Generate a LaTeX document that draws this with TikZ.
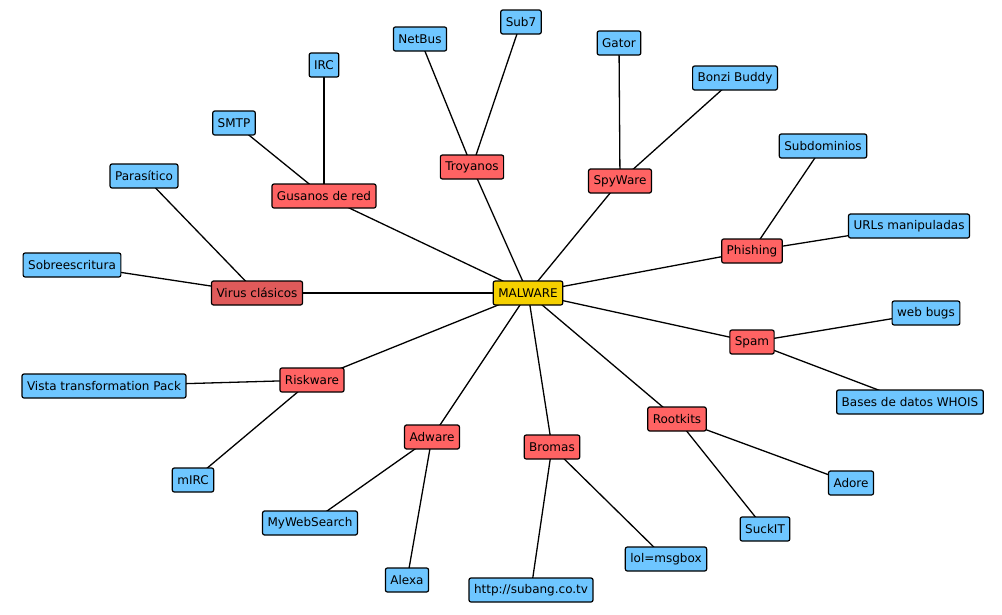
\documentclass[tikz,border=0pt]{standalone}
\usepackage{fontspec}
\setmainfont{DejaVu Sans}
\usetikzlibrary{backgrounds}
\definecolor{redn}{HTML}{FF6363}
\definecolor{redd}{HTML}{E05A5A}
\definecolor{bluen}{HTML}{6EC6FF}
\definecolor{yel}{HTML}{F5D000}
\tikzset{
 box/.style={draw=black,line width=1.2pt,rounded corners=2pt,inner xsep=5pt,inner ysep=0pt,minimum height=24pt,font=\fontsize{12}{14}\selectfont},
 rd/.style={box,fill=redn},
 bl/.style={box,fill=bluen},
 ln/.style={line width=1.3pt}
}
\begin{document}
\begin{tikzpicture}[x=1pt,y=-1pt]
\useasboundingbox (0,0) rectangle (1002,614);
\node[box,fill=yel] (m) at (528,293) {MALWARE};
\node[rd] (tro) at (472,167) {Troyanos};
\node[rd] (spy) at (620,181) {SpyWare};
\node[rd] (gus) at (324,196) {Gusanos de red};
\node[rd] (phi) at (752,251) {Phishing};
\node[box,fill=redd] (vir) at (257,293) {Virus clásicos};
\node[rd] (spa) at (752,342) {Spam};
\node[rd] (ris) at (312,380) {Riskware};
\node[rd] (adw) at (432,437) {Adware};
\node[rd] (bro) at (552,447) {Bromas};
\node[rd] (roo) at (677,419) {Rootkits};
\node[bl] (netbus) at (420,39) {NetBus};
\node[bl] (sub7) at (521,22) {Sub7};
\node[bl] (gator) at (619,43) {Gator};
\node[bl] (bonzi) at (735,78) {Bonzi Buddy};
\node[bl] (irc) at (324,65) {IRC};
\node[bl] (smtp) at (234,123) {SMTP};
\node[bl] (para) at (144,176) {Parasítico};
\node[bl] (subd) at (823,146) {Subdominios};
\node[bl] (urls) at (909,226) {URLs manipuladas};
\node[bl] (sobre) at (72,265) {Sobreescritura};
\node[bl] (web) at (926,313) {web bugs};
\node[bl] (whois) at (910,402) {Bases de datos WHOIS};
\node[bl] (vista) at (104,386) {Vista transformation Pack};
\node[bl] (mirc) at (193,480) {mIRC};
\node[bl] (myw) at (310,523) {MyWebSearch};
\node[bl] (alexa) at (407,580) {Alexa};
\node[bl] (http) at (531,590) {http://subang.co.tv};
\node[bl] (lol) at (666,559) {lol=msgbox};
\node[bl] (suck) at (765,529) {SuckIT};
\node[bl] (adore) at (851,483) {Adore};
\begin{scope}[on background layer]
\foreach \r in {tro,spy,gus,phi,vir,spa,ris,adw,bro,roo}
  \draw[ln] (m.center) -- (\r.center);
\foreach \a/\b in {tro/netbus,tro/sub7,spy/gator,spy/bonzi,gus/irc,gus/smtp,phi/subd,phi/urls,vir/para,vir/sobre,spa/web,spa/whois,ris/vista,ris/mirc,adw/myw,adw/alexa,bro/http,bro/lol,roo/suck,roo/adore}
  \draw[ln] (\a.center) -- (\b.center);
\end{scope}
\end{tikzpicture}
\end{document}
